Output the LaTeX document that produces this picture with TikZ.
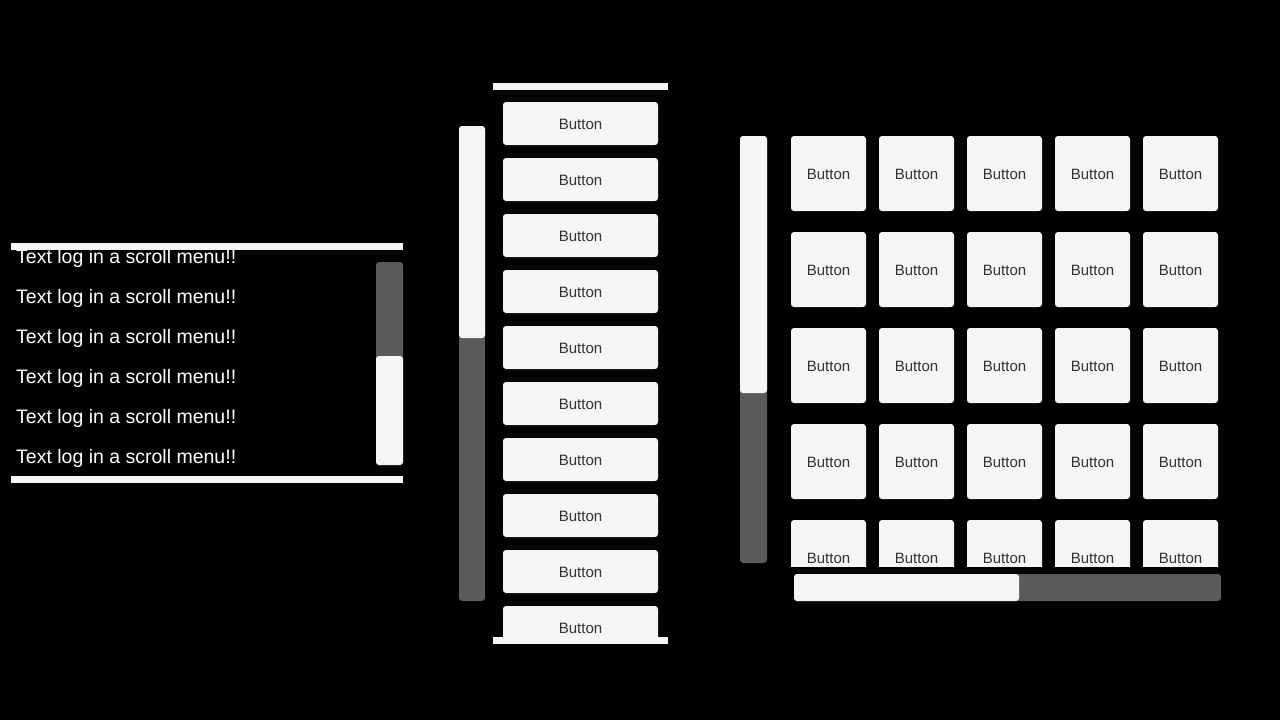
\documentclass[tikz,border=0pt]{standalone}
\usepackage{fontspec}
\setmainfont{Liberation Sans}
\begin{document}
\begin{tikzpicture}[x=1pt,y=-1pt,
  bar/.style={fill=wbar,draw=none},
  track/.style={fill=trk,draw=none,rounded corners=3pt},
  handle/.style={fill=wbar,draw=none,rounded corners=3pt},
  btn/.style={fill=wbar,draw=none,rounded corners=3pt},
  btxt/.style={text=btc,font=\fontsize{15}{15}\selectfont,inner sep=0},
  ltxt/.style={text=white,font=\fontsize{19.5}{19.5}\selectfont,anchor=west,inner sep=0}]
\definecolor{wbar}{HTML}{F5F5F5}
\definecolor{trk}{HTML}{5A5A5A}
\definecolor{btc}{HTML}{323232}
\fill[black] (0,0) rectangle (1280,720);
\useasboundingbox (0,0) rectangle (1280,720);
% left panel
\fill[bar] (11,243) rectangle (403,250);
\fill[bar] (11,476) rectangle (403,483);
\begin{scope}
\clip (11,250) rectangle (370,476);
\foreach \i in {0,...,5}{
  \node[ltxt] (t\i) at (16,{258+40*\i}) {Text log in a scroll menu!!};
}
\end{scope}
\fill[track] (376,262) rectangle (403,465);
\fill[handle] (376,356) rectangle (403,465);
% middle panel
\fill[bar] (493,83) rectangle (668,90);
\fill[bar] (493,637) rectangle (668,644);
\fill[track] (459,126) rectangle (485,601);
\fill[handle] (459,126) rectangle (485,338);
\begin{scope}
\clip (493,90) rectangle (668,637);
\foreach \i in {0,...,9}{
  \fill[btn] (503,{102+56*\i}) rectangle (658,{145+56*\i});
  \node[btxt] (mb\i) at (580.5,{124+56*\i}) {Button};
}
\end{scope}
% grid panel
\fill[track] (740,136) rectangle (767,563);
\fill[handle] (740,136) rectangle (767,393);
\fill[track] (794,574) rectangle (1221,601);
\fill[handle] (794,574) rectangle (1019,601);
\begin{scope}
\clip (780,120) rectangle (1230,566);
\foreach \r in {0,...,4}{
\foreach \c in {0,...,4}{
  \fill[btn] ({791+88*\c},{136+96*\r}) rectangle ({866+88*\c},{211+96*\r});
  \node[btxt] (g\r\c) at ({828.5+88*\c},{174+96*\r}) {Button};
}}
\end{scope}
\end{tikzpicture}
\end{document}
